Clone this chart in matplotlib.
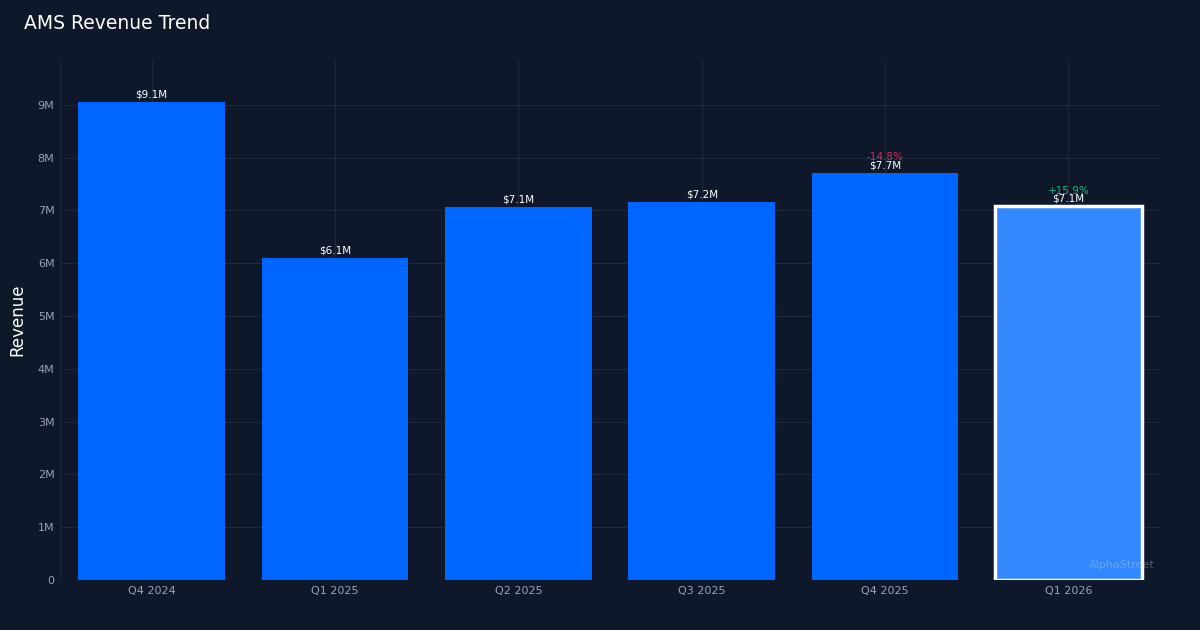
import matplotlib
matplotlib.use("Agg")
import matplotlib.pyplot as plt

categories = ["Q4 2024", "Q1 2025", "Q2 2025", "Q3 2025", "Q4 2025", "Q1 2026"]
revenue = [9.05, 6.10, 7.06, 7.16, 7.71, 7.08]  # millions
labels = ["$9.1M", "$6.1M", "$7.1M", "$7.2M", "$7.7M", "$7.1M"]
yoy = {4: ("-14.8%", "#e0245e"), 5: ("+15.9%", "#10b981")}
yticks = [0, 1, 2, 3, 4, 5, 6, 7, 8, 9]
ytick_labels = ["0", "1M", "2M", "3M", "4M", "5M", "6M", "7M", "8M", "9M"]

bg = "#0f172a"
fig = plt.figure(figsize=(12, 6.3), dpi=100, facecolor=bg)
ax = fig.add_axes([0.05, 0.0794, 0.9167, 0.8254], facecolor=bg)

x = list(range(len(categories)))
colors = ["#0066ff"] * 5 + ["#3388ff"]
bars = ax.bar(x, revenue, width=0.8, color=colors, zorder=2)
bars[-1].set_edgecolor("white")
bars[-1].set_linewidth(2.5)

for i, (v, l) in enumerate(zip(revenue, labels)):
    ax.text(i, v + 0.05, l, ha="center", va="bottom", color="white", fontsize=7.5, zorder=3)
for i, (t, c) in yoy.items():
    ax.text(i, revenue[i] + 0.2, t, ha="center", va="bottom", color=c, fontsize=7.5, zorder=3)

ax.set_xlim(-0.5, len(categories) - 0.5)
ax.set_ylim(0, 9.85)
ax.set_xticks(x)
ax.set_xticklabels(categories)
ax.set_yticks(yticks)
ax.set_yticklabels(ytick_labels)
ax.tick_params(colors="#94a3b8", labelsize=8, length=0, pad=4)
ax.grid(True, color="#1e293b", linewidth=0.8, zorder=0)
for s in ax.spines.values():
    s.set_visible(False)
ax.axvline(-0.5, color="#1e293b", linewidth=0.8)
ax.set_ylabel("Revenue", color="white", fontsize=12, labelpad=8)

fig.text(0.02, 0.962, "AMS Revenue Trend", color="white", fontsize=13.5, va="center")
ax.text(0.995, 0.02, "AlphaStreet", transform=ax.transAxes, ha="right", va="bottom",
        color="#cbd5e1", alpha=0.35, fontsize=8, zorder=4)

fig.savefig("out.png", facecolor=bg)
